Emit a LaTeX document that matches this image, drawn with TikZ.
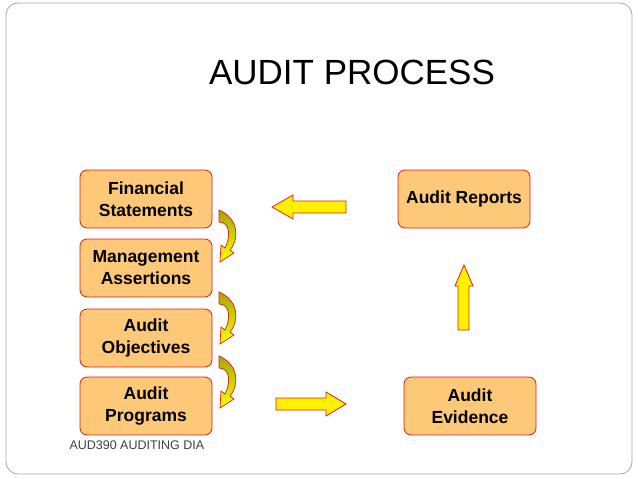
\documentclass[tikz,border=0pt]{standalone}
\usepackage{fontspec}
\setmainfont{Liberation Sans}
\definecolor{boxf}{RGB}{253,201,120}
\definecolor{boxd}{RGB}{220,30,20}
\begin{document}
\begin{tikzpicture}[x=1pt,y=-1pt,
 box/.style={draw=boxd,line width=0.8pt,fill=boxf,rounded corners=7pt,minimum width=132pt,minimum height=58pt,align=center,font=\bfseries\fontsize{17.5}{22}\selectfont},
 blk/.style={draw=boxd,line width=0.8pt,fill=yellow},
 curv/.style={draw=boxd,line width=0.7pt,top color=olive!70!yellow,bottom color=yellow}]
\useasboundingbox (0,0) rectangle (638,479);
\draw[gray!70,line width=0.8pt,rounded corners=12pt] (6,3) rectangle (632,474);
\node (title) at (352,72) {\fontsize{35}{40}\selectfont AUDIT PROCESS};
\node[box] (fs) at (146,199) {Financial\\Statements};
\node[box] (ma) at (146,268) {Management\\Assertions};
\node[box] (ao) at (146,338) {Audit\\Objectives};
\node[box] (ap) at (146,406) {Audit\\Programs};
\node[box] (ar) at (464,199) {Audit Reports};
\node[box] (ae) at (470,406) {Audit\\Evidence};
\node[anchor=west,font=\fontsize{12.5}{14}\selectfont,text=black!75] (ft) at (66,445) {AUD390 AUDITING DIA};
% block arrows
\draw[blk] (346,201)--(293,201)--(293,195)--(272,207)--(293,219)--(293,213)--(346,213)--cycle;
\draw[blk] (458,330)--(458,286)--(455,286)--(464,265)--(473,286)--(469,286)--(469,330)--cycle;
\draw[blk] (276,398)--(326,398)--(326,392)--(346,404)--(326,416)--(326,410)--(276,410)--cycle;
% curved arrows
\foreach \y in {210,292,356}{
\draw[curv,shift={(0,\y-210)}] (219,210) .. controls (238,218) and (240,238) .. (230,250)
 -- (234,253) -- (220,262) -- (221,245) -- (225,248) .. controls (231,236) and (230,222) .. (219,222) -- cycle;}
\end{tikzpicture}
\end{document}
